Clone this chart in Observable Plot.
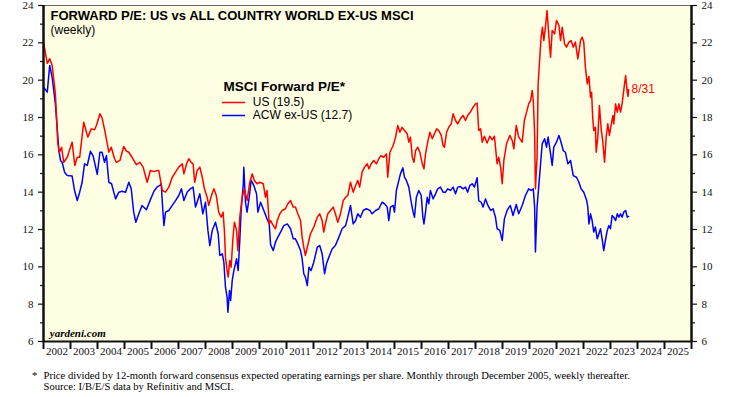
<!DOCTYPE html>
<html><head><meta charset="utf-8">
<script src="https://cdn.jsdelivr.net/npm/d3@7"></script>
<script src="https://cdn.jsdelivr.net/npm/@observablehq/plot@0.6"></script>
<style>body{margin:0;background:#fff} #chart{width:735px;height:397px}</style>
</head><body><div id="chart"></div>
<script>
// US MSCI forward P/E (decimal year, value)
const usT = [2002.00,2002.14,2002.23,2002.32,2002.44,2002.53,2002.59,2002.67,2002.75,2002.88,
2003.06,2003.16,2003.25,2003.34,2003.49,2003.64,2003.77,2003.89,2003.96,
2004.09,2004.17,2004.27,2004.42,2004.51,2004.63,2004.70,2004.83,2004.97,
2005.07,2005.16,2005.28,2005.44,2005.57,2005.69,2005.84,2005.96,
2006.09,2006.21,2006.27,2006.40,2006.52,2006.64,2006.77,2006.89,
2007.01,2007.14,2007.20,2007.30,2007.38,2007.47,2007.54,2007.60,2007.69,2007.79,2007.88,2007.96,
2008.06,2008.12,2008.22,2008.31,2008.40,2008.49,2008.58,2008.65,2008.70,2008.74,2008.80,2008.84,2008.90,2008.95,
2009.01,2009.07,2009.15,2009.20,2009.27,2009.36,2009.44,2009.54,2009.64,2009.73,2009.81,2009.91,
2010.01,2010.14,2010.22,2010.28,2010.36,2010.41,2010.51,2010.59,2010.66,2010.75,2010.84,2010.96,
2011.05,2011.15,2011.25,2011.33,2011.42,2011.52,2011.58,2011.64,2011.70,2011.77,2011.83,2011.89,
2012.01,2012.14,2012.23,2012.32,2012.38,2012.44,2012.53,2012.63,2012.73,2012.81,2012.90,
2013.00,2013.10,2013.19,2013.27,2013.37,2013.47,2013.56,2013.64,2013.71,2013.80,2013.89,2013.99,
2014.05,2014.14,2014.23,2014.33,2014.42,2014.50,2014.60,2014.70,2014.75,2014.83,2014.95,
2015.04,2015.12,2015.20,2015.28,2015.37,2015.47,2015.53,2015.59,2015.66,2015.72,2015.78,2015.86,2015.94,
2016.03,2016.09,2016.15,2016.23,2016.31,2016.40,2016.48,2016.56,2016.64,2016.73,2016.80,2016.85,2016.93,
2017.01,2017.10,2017.17,2017.26,2017.34,2017.44,2017.54,2017.63,2017.71,2017.81,2017.91,
2018.00,2018.06,2018.12,2018.19,2018.25,2018.33,2018.43,2018.53,2018.62,2018.70,2018.74,2018.80,2018.86,2018.93,2018.99,
2019.05,2019.15,2019.27,2019.36,2019.42,2019.51,2019.60,2019.73,2019.81,2019.91,2019.97,
2020.04,2020.10,2020.14,2020.19,2020.22,2020.28,2020.32,2020.37,2020.43,2020.48,2020.53,2020.59,2020.65,2020.72,2020.78,2020.84,2020.93,
2021.00,2021.09,2021.15,2021.21,2021.30,2021.37,2021.46,2021.54,2021.62,2021.70,2021.79,2021.89,2021.95,
2022.01,2022.07,2022.14,2022.20,2022.26,2022.30,2022.34,2022.38,2022.44,2022.47,2022.53,2022.59,2022.66,2022.71,2022.78,2022.84,2022.90,2022.96,
2023.03,2023.09,2023.12,2023.19,2023.25,2023.31,2023.37,2023.43,2023.49,2023.56,2023.62,2023.65,2023.67];
const usV = [22.05,20.90,21.15,20.80,19.27,16.60,16.14,16.40,15.60,15.87,
16.68,15.43,15.87,15.87,17.75,16.95,17.39,17.34,17.57,
18.20,17.98,17.30,16.14,16.41,15.79,15.60,15.70,16.45,
16.20,16.14,15.87,15.47,15.60,15.34,14.53,15.16,
15.10,15.16,15.16,14.09,14.00,14.27,14.80,15.07,
15.34,15.52,14.98,15.52,15.79,15.60,15.52,14.53,15.16,15.34,14.80,14.18,
13.73,13.29,13.82,14.18,13.82,12.93,12.66,12.93,11.95,10.52,9.80,9.45,10.34,9.98,
11.41,12.39,11.95,10.87,12.66,13.73,14.18,13.55,14.53,14.98,14.63,14.45,
14.53,14.45,13.73,14.09,12.30,12.48,12.21,12.04,12.48,12.84,13.02,13.11,
13.38,13.55,13.20,13.20,12.84,12.48,11.59,11.05,10.61,11.05,11.41,11.77,
12.13,12.66,12.84,12.48,11.86,12.30,12.84,13.02,13.20,12.84,12.39,
12.84,13.55,13.73,13.82,14.53,14.00,14.36,14.63,14.27,15.07,15.34,15.52,
15.25,15.52,15.70,15.52,15.79,15.96,15.87,16.05,14.80,16.14,16.50,
16.95,17.57,17.21,17.48,17.30,17.13,16.68,16.95,15.87,15.60,16.23,16.41,16.14,
15.52,15.25,16.05,16.68,17.21,16.86,17.13,17.39,17.30,17.04,16.50,16.41,17.21,
17.48,17.66,18.20,17.84,17.66,17.93,18.11,17.84,18.11,18.29,18.55,
18.73,18.77,17.30,17.39,16.68,17.00,16.63,17.00,16.80,17.00,16.41,15.52,15.87,15.34,14.45,
15.70,16.59,17.04,16.77,16.32,17.57,16.95,16.68,17.84,18.38,18.73,
18.91,19.45,18.91,17.13,14.18,15.87,19.80,20.96,22.30,22.84,22.12,22.84,23.73,22.30,21.23,22.66,22.48,
23.20,22.93,22.12,22.84,21.95,21.77,22.04,22.12,21.77,22.04,21.14,22.12,22.30,
22.04,20.70,19.80,20.20,19.09,19.35,18.02,17.30,17.48,16.14,16.95,18.64,17.30,16.77,15.60,16.95,17.66,17.04,
17.66,18.11,17.66,18.73,18.29,18.73,18.29,18.73,19.45,20.25,19.36,19.13,19.50];

// MSCI All Country World ex-US forward P/E
const acwT = [2002.00,2002.14,2002.23,2002.32,2002.44,2002.57,2002.63,2002.69,2002.78,2002.88,
2003.06,2003.15,2003.25,2003.34,2003.43,2003.52,2003.62,2003.74,2003.84,2003.99,
2004.09,2004.17,2004.26,2004.33,2004.42,2004.52,2004.67,2004.79,2004.91,
2005.04,2005.16,2005.25,2005.34,2005.42,2005.53,2005.65,2005.81,2005.96,
2006.09,2006.21,2006.31,2006.36,2006.42,2006.46,2006.52,2006.64,2006.77,2006.89,
2007.01,2007.11,2007.20,2007.32,2007.44,2007.54,2007.63,2007.69,2007.79,2007.90,
2008.00,2008.09,2008.16,2008.25,2008.37,2008.47,2008.53,2008.62,2008.68,2008.74,2008.80,2008.83,2008.89,2008.93,2008.99,
2009.05,2009.15,2009.21,2009.27,2009.32,2009.40,2009.42,2009.48,2009.54,2009.62,2009.69,2009.79,2009.89,2009.94,
2010.04,2010.16,2010.28,2010.36,2010.41,2010.51,2010.59,2010.68,2010.78,2010.90,
2011.03,2011.15,2011.25,2011.33,2011.42,2011.52,2011.58,2011.64,2011.70,2011.77,2011.83,2011.91,
2012.01,2012.14,2012.23,2012.32,2012.41,2012.48,2012.57,2012.69,2012.81,2012.94,
2013.06,2013.19,2013.27,2013.37,2013.47,2013.56,2013.64,2013.74,2013.84,2013.96,
2014.09,2014.17,2014.30,2014.42,2014.54,2014.63,2014.73,2014.79,2014.85,2014.95,
2015.00,2015.07,2015.16,2015.22,2015.31,2015.37,2015.44,2015.53,2015.62,2015.69,2015.74,2015.81,2015.90,2015.99,
2016.05,2016.09,2016.15,2016.21,2016.27,2016.33,2016.43,2016.52,2016.60,2016.70,2016.80,2016.89,2016.97,
2017.07,2017.17,2017.26,2017.34,2017.44,2017.54,2017.63,2017.71,2017.79,2017.88,2017.96,
2018.06,2018.12,2018.21,2018.28,2018.37,2018.46,2018.56,2018.65,2018.74,2018.80,2018.90,2018.99,
2019.07,2019.17,2019.29,2019.39,2019.51,2019.60,2019.73,2019.85,2019.97,
2020.06,2020.14,2020.19,2020.22,2020.28,2020.34,2020.41,2020.47,2020.56,2020.63,2020.69,2020.78,2020.84,2020.90,
2021.00,2021.09,2021.15,2021.25,2021.33,2021.42,2021.52,2021.62,2021.74,2021.83,2021.91,
2022.01,2022.11,2022.16,2022.20,2022.26,2022.32,2022.38,2022.44,2022.51,2022.57,2022.63,2022.69,2022.75,2022.81,2022.88,2022.94,
2023.00,2023.06,2023.12,2023.19,2023.25,2023.31,2023.37,2023.43,2023.49,2023.56,2023.62,2023.67];
const acwV = [19.63,19.36,20.79,20.16,18.73,16.23,15.70,15.60,15.07,14.89,
14.86,14.09,13.55,14.00,14.53,15.52,15.43,16.19,15.93,14.95,
16.14,16.14,15.60,15.96,14.53,14.45,13.64,14.00,14.05,
14.00,14.53,14.18,12.93,12.39,12.84,13.29,13.06,13.60,
14.05,14.28,14.36,14.45,13.02,12.21,12.93,13.02,13.29,13.55,
13.82,14.18,13.55,14.00,14.18,14.27,13.20,13.46,13.91,12.84,
13.46,11.95,11.14,11.95,12.39,11.77,10.61,10.70,10.25,8.91,8.37,7.57,8.73,8.20,9.27,
9.80,10.43,9.80,11.41,13.02,14.45,15.34,13.46,12.93,13.73,14.63,14.36,13.91,12.93,
13.46,13.02,12.57,12.30,11.20,10.87,11.32,11.59,11.86,12.21,
12.30,12.04,11.50,11.50,11.23,10.87,10.43,9.63,9.45,9.00,9.98,9.80,
10.25,11.05,11.14,10.70,9.63,10.16,10.52,10.96,11.14,11.59,
12.04,12.21,12.66,13.29,12.30,12.48,12.84,12.66,13.02,13.11,
13.02,12.84,13.02,13.11,13.46,13.38,13.20,12.48,13.20,13.29,
12.93,14.09,14.63,14.98,15.30,14.80,14.63,14.27,13.46,12.93,12.66,13.73,14.09,13.82,
12.66,12.30,12.93,13.73,13.38,14.09,13.64,13.91,14.18,14.27,14.00,14.00,14.18,
14.09,14.27,13.91,14.27,14.30,14.18,14.27,14.00,14.36,14.45,14.27,
14.77,13.55,13.46,13.20,13.64,13.29,13.02,13.11,12.66,12.04,11.95,11.41,
12.57,13.02,13.29,12.75,13.34,12.84,13.29,13.82,14.18,
14.09,14.18,13.20,10.79,13.20,14.27,15.52,16.59,16.86,16.41,16.95,16.05,15.43,16.41,
16.68,17.04,16.77,16.23,16.14,15.52,15.70,14.89,14.80,14.53,14.18,
14.00,13.60,13.20,12.30,12.84,12.48,11.86,12.13,11.50,11.77,12.04,11.50,10.87,11.41,11.95,12.21,
12.04,12.75,12.66,12.48,12.84,12.66,12.84,12.66,12.93,13.02,12.66,12.70];

const yearTicks = d3.range(2002, 2027);
const yearLabels = d3.range(2002, 2026);
const yMajor = [6, 8, 10, 12, 14, 16, 18, 20, 22, 24];
const yMinor = [7, 9, 11, 13, 15, 17, 19, 21, 23];

const title = "FORWARD P/E: US vs ALL COUNTRY WORLD EX-US MSCI";
const subtitle = "(weekly)";
const legendTitle = "MSCI Forward P/E*";
const legendLabels = ["US (19.5)", "ACW ex-US (12.7)"];
const lastDateLabel = "8/31";
const footnote1 = "Price divided by 12-month forward consensus expected operating earnings per share. Monthly through December 2005, weekly thereafter.";
const footnote2 = "Source: I/B/E/S data by Refinitiv and MSCI.";

const us = usT.map((t, i) => ({t, v: usV[i]}));
const acw = acwT.map((t, i) => ({t, v: acwV[i]}));
const usLast = us[us.length - 1];

const SANS = "Liberation Sans, Arial, sans-serif";
const SERIF = "Liberation Serif, Times New Roman, serif";
const BG = "#fefee3";

function legendSwatches() {
  const g = d3.create("svg:g");
  [[102.5, "#ff0000"], [115.5, "#0000ff"]].forEach(([y, c]) => {
    g.append("line").attr("x1", 222).attr("x2", 245).attr("y1", y).attr("y2", y)
      .attr("stroke", c).attr("stroke-width", 1.5);
  });
  return g.node();
}

const chart = Plot.plot({
  width: 735, height: 397,
  marginLeft: 43, marginRight: 44, marginTop: 5, marginBottom: 56,
  style: {fontFamily: SERIF, fontSize: "11px", background: "white", color: "#111"},
  x: {type: "linear", domain: [2002, 2026]},
  y: {domain: [6, 24]},
  marks: [
    Plot.frame({fill: BG, stroke: "none"}),
    Plot.line(acw, {x: "t", y: "v", stroke: "#0000ff", strokeWidth: 1.5}),
    Plot.line(us, {x: "t", y: "v", stroke: "#ff0000", strokeWidth: 1.5}),
    Plot.ruleY([24], {stroke: "#666", strokeWidth: 1}),
    Plot.ruleY([6], {stroke: "#111", strokeWidth: 2}),
    Plot.ruleX([2002, 2026], {stroke: "#111", strokeWidth: 2.5}),
    Plot.axisY(yMajor, {anchor: "left", label: null, tickSize: 5, tickPadding: 5, fontFamily: SERIF, fontSize: 11, strokeWidth: 1.2}),
    Plot.axisY(yMinor, {anchor: "left", label: null, tickSize: 3, tickFormat: () => "", strokeWidth: 1.2}),
    Plot.axisY(yMajor, {anchor: "right", label: null, tickSize: 5, tickPadding: 5, fontFamily: SERIF, fontSize: 11, strokeWidth: 1.2}),
    Plot.axisY(yMinor, {anchor: "right", label: null, tickSize: 3, tickFormat: () => "", strokeWidth: 1.2}),
    Plot.axisX(yearTicks, {anchor: "bottom", label: null, tickSize: 8, tickFormat: () => "", strokeWidth: 2}),
    Plot.axisX(yearLabels.map(y => y + 0.5), {anchor: "bottom", label: null, tickSize: 0, tickPadding: 6, tickFormat: d => String(Math.floor(d)), fontFamily: SERIF, fontSize: 11}),
    Plot.text([title], {frameAnchor: "top-left", dx: 7, dy: 10.8, lineAnchor: "middle", textAnchor: "start", fontFamily: SANS, fontSize: 13, fontWeight: "bold", fill: "#000"}),
    Plot.text([subtitle], {frameAnchor: "top-left", dx: 7, dy: 24.5, lineAnchor: "middle", textAnchor: "start", fontFamily: SANS, fontSize: 12, fill: "#000"}),
    Plot.text([legendTitle], {frameAnchor: "top-left", dx: 180, dy: 81.4, lineAnchor: "middle", textAnchor: "start", fontFamily: SANS, fontSize: 13.5, fontWeight: "bold", fill: "#000"}),
    Plot.text([legendLabels[0]], {frameAnchor: "top-left", dx: 209.3, dy: 96.9, lineAnchor: "middle", textAnchor: "start", fontFamily: SANS, fontSize: 12, fill: "#000"}),
    Plot.text([legendLabels[1]], {frameAnchor: "top-left", dx: 209.3, dy: 109.6, lineAnchor: "middle", textAnchor: "start", fontFamily: SANS, fontSize: 12, fill: "#000"}),
    legendSwatches,
    Plot.text([usLast], {x: "t", y: "v", text: () => lastDateLabel, dx: 3, textAnchor: "start", lineAnchor: "middle", fontFamily: SANS, fontSize: 12, fill: "#ff0000"}),
    Plot.text(["yardeni.com"], {frameAnchor: "bottom-left", dx: 6.3, dy: -7.8, lineAnchor: "middle", textAnchor: "start", fontFamily: SERIF, fontSize: 11, fontWeight: "bold", fontStyle: "italic", fill: "#000"}),
    Plot.text(["*"], {frameAnchor: "bottom-left", dx: -11.5, dy: 34.5, lineAnchor: "middle", textAnchor: "start", fontFamily: SERIF, fontSize: 10.6, fill: "#000"}),
    Plot.text([footnote1], {frameAnchor: "bottom-left", dx: 0, dy: 34.5, lineAnchor: "middle", textAnchor: "start", fontFamily: SERIF, fontSize: 10.6, fill: "#000"}),
    Plot.text([footnote2], {frameAnchor: "bottom-left", dx: 0, dy: 45.5, lineAnchor: "middle", textAnchor: "start", fontFamily: SERIF, fontSize: 10.6, fill: "#000"})
  ]
});
document.getElementById("chart").append(chart);
</script>
</body></html>
